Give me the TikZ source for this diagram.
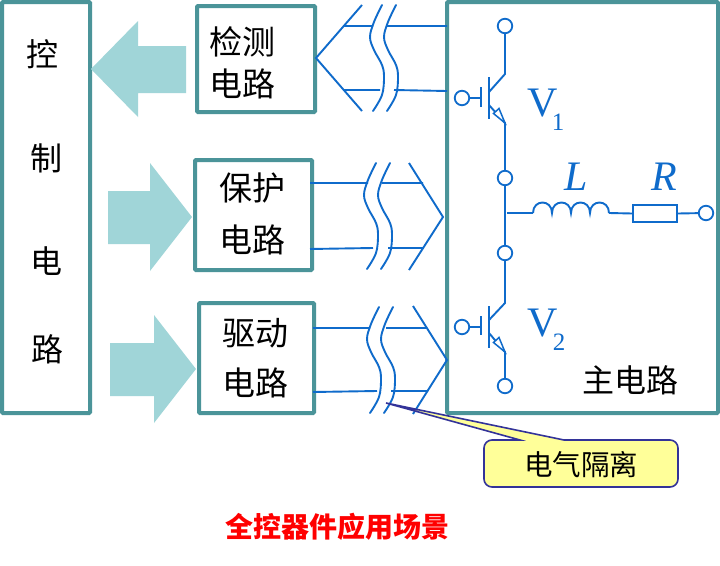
\documentclass[tikz,border=0pt]{standalone}
\usepackage{fontspec}
\setmainfont{Noto Sans CJK SC}
\newfontfamily\latinserif{Liberation Serif}
\newcommand{\sz}[1]{\fontsize{#1}{#1}\selectfont}
\definecolor{tealline}{HTML}{4B9499}
\definecolor{arrowfill}{HTML}{A0D5D8}
\definecolor{wireblue}{HTML}{0F6BCB}
\definecolor{calloutfill}{HTML}{FFFF99}
\definecolor{calloutline}{HTML}{333399}
\tikzset{
  x=1pt,y=-1pt,
  block/.style={draw=tealline,line width=4pt,fill=white,rounded corners=1pt},
  bigarrow/.style={fill=arrowfill,draw=none},
  thinwire/.style={draw=wireblue,line width=1.9pt},
  terminal/.style={circle,draw=wireblue,line width=1.8pt,fill=white,minimum size=14.5pt,inner sep=0pt},
  cjk/.style={font=\sz{#1},text=black,inner sep=0pt},
  sym/.style={text=wireblue,inner sep=0pt},
  wave/.pic={\draw[thinwire,line cap=round] plot[smooth,tension=0.6] coordinates {(0,0) (-8,17) (-12,32) (-8,45) (0,60) (2,72) (0,90) (-9,106)};},
}
\begin{document}
\begin{tikzpicture}
\useasboundingbox[fill=white] (0,0) rectangle (720,565);
% blocks
\draw[block] (2,2) rectangle (90,413);
\draw[block] (197,6) rectangle (315,112);
\draw[block] (195,160) rectangle (312,270);
\draw[block] (199,303) rectangle (314,413);
\draw[block] (447,2) rectangle (718,413);
% block arrows
\fill[bigarrow] (91,69) -- (138,21) -- (138,46) -- (186,46) -- (186,93) -- (138,93) -- (138,117) -- cycle;
\fill[bigarrow] (192,217) -- (150,163) -- (150,191) -- (108,191) -- (108,244) -- (150,244) -- (150,271) -- cycle;
\fill[bigarrow] (196,369) -- (154,315) -- (154,343) -- (110,343) -- (110,396) -- (154,396) -- (154,423) -- cycle;
% block texts
\node[cjk=32] (c1) at (42,54) {控};
\node[cjk=32] (c2) at (46,158) {制};
\node[cjk=32] (c3) at (46,261) {电};
\node[cjk=32] (c4) at (47,349) {路};
\node[cjk=33] (d1) at (242,42) {检测};
\node[cjk=33] (d2) at (242,84) {电路};
\node[cjk=33] (p1) at (252,188) {保护};
\node[cjk=33] (p2) at (252,240) {电路};
\node[cjk=33] (q1) at (255,333) {驱动};
\node[cjk=33] (q2) at (255,383) {电路};
\node[cjk=32] (m) at (630,380) {主电路};
% detection isolation
\coordinate (dtip) at (316,58);
\coordinate (dtop) at (362,5);
\coordinate (dbot) at (362,111);
\draw[thinwire] (dtop) -- (dtip) -- (dbot);
\coordinate (da1) at (343,26); \coordinate (da2) at (373,26);
\coordinate (da3) at (387,26); \coordinate (da4) at (447,26);
\coordinate (db1) at (343,90); \coordinate (db2) at (380,90);
\coordinate (db3) at (394,90); \coordinate (db4) at (447,91);
\draw[thinwire] (da1) -- (da2) (da3) -- (da4) (db1) -- (db2) (db3) -- (db4);
\pic at (382,5) {wave};
\pic at (396,5) {wave};
% protection isolation
\coordinate (ptip) at (443,217);
\coordinate (ptop) at (409,163);
\coordinate (pbot) at (409,270);
\draw[thinwire] (ptop) -- (ptip) -- (pbot);
\coordinate (pa1) at (310,183); \coordinate (pa2) at (368,183);
\coordinate (pa3) at (382,183); \coordinate (pa4) at (423,183);
\coordinate (pb1) at (310,249); \coordinate (pb2) at (373,248);
\coordinate (pb3) at (388,248); \coordinate (pb4) at (423,248);
\draw[thinwire] (pa1) -- (pa2) (pa3) -- (pa4) (pb1) -- (pb2) (pb3) -- (pb4);
\pic at (376,163) {wave};
\pic at (390,163) {wave};
% drive isolation
\coordinate (qtip) at (447,360);
\coordinate (qtop) at (413,306);
\coordinate (qbot) at (413,414);
\draw[thinwire] (qtop) -- (qtip) -- (qbot);
\coordinate (qa1) at (313,328); \coordinate (qa2) at (370,328);
\coordinate (qa3) at (386,328); \coordinate (qa4) at (426,328);
\coordinate (qb1) at (313,392); \coordinate (qb2) at (377,391);
\coordinate (qb3) at (391,391); \coordinate (qb4) at (428,391);
\draw[thinwire] (qa1) -- (qa2) (qa3) -- (qa4) (qb1) -- (qb2) (qb3) -- (qb4);
\pic at (379,307) {wave};
\pic at (393,307) {wave};
% terminals
\node[terminal] (t1) at (505,26) {};
\node[terminal] (g1) at (462,98) {};
\node[terminal] (mid1) at (505,178) {};
\node[terminal] (mid2) at (505,253) {};
\node[terminal] (g2) at (462,327) {};
\node[terminal] (b2) at (505,386) {};
\node[terminal] (out) at (706,213) {};
% V1
\coordinate (c1k) at (505,74); \coordinate (b1a) at (489,92);
\coordinate (b1t) at (489,77); \coordinate (b1b) at (489,119);
\coordinate (g1t) at (481,87); \coordinate (g1b) at (481,107); \coordinate (g1m) at (481,98);
\coordinate (e1a) at (489,105); \coordinate (e1k) at (505,123);
\draw[thinwire] (t1) -- (c1k) -- (b1a);
\draw[thinwire] (b1t) -- (b1b) (g1t) -- (g1b);
\draw[thinwire] (g1) -- (g1m);
\draw[thinwire] (e1a) -- (e1k) -- (mid1);
\draw[draw=wireblue,line width=1.5pt,fill=white] (e1k) -- (499,108.5) -- (493.5,113.5) -- cycle;
% V2
\coordinate (c2k) at (505,303); \coordinate (b2a) at (489,320);
\coordinate (b2t) at (489,306); \coordinate (b2b) at (489,348);
\coordinate (g2t) at (481,316); \coordinate (g2b) at (481,335); \coordinate (g2m) at (481,327);
\coordinate (e2a) at (489,333); \coordinate (e2k) at (505,352);
\draw[thinwire] (mid2) -- (c2k) -- (b2a);
\draw[thinwire] (b2t) -- (b2b) (g2t) -- (g2b);
\draw[thinwire] (g2) -- (g2m);
\draw[thinwire] (e2a) -- (e2k) -- (b2);
\draw[draw=wireblue,line width=1.5pt,fill=white] (e2k) -- (499,337.5) -- (493.5,342.5) -- cycle;
% midpoint and load
\draw[thinwire] (mid1) -- (mid2);
\coordinate (j) at (507,213); \coordinate (la) at (533,213); \coordinate (lb) at (609,213);
\node[draw=wireblue,line width=1.8pt,minimum width=44pt,minimum height=17pt,inner sep=0pt] (res) at (655,213.5) {};
\draw[thinwire] (j) -- (la);
\draw[thinwire] (la) .. controls (533,199) and (552,199) .. (552,213)
  .. controls (552,199) and (571,199) .. (571,213)
  .. controls (571,199) and (590,199) .. (590,213)
  .. controls (590,199) and (609,199) .. (609,213);
\draw[thinwire] (lb) -- (res.west);
\draw[thinwire] (res.east) -- (out);
% symbols
\node[sym,font=\latinserif\sz{42}] (v1) at (543,103) {V};
\node[sym,font=\latinserif\sz{25}] (v1s) at (558,122) {1};
\node[sym,font=\latinserif\sz{42}] (v2) at (543,323) {V};
\node[sym,font=\latinserif\sz{25}] (v2s) at (559,342) {2};
\node[sym,font=\latinserif\itshape\sz{42}] (L) at (576,177) {L};
\node[sym,font=\latinserif\itshape\sz{42}] (R) at (664,177) {R};
% callout
\draw[draw=calloutline,line width=1.6pt,fill=calloutfill,rounded corners=0pt]
  (386,403) -- (520,440) -- (495,440)
  [rounded corners=8pt] -- (484,440) -- (484,487) -- (678,487) -- (678,440) [rounded corners=0pt] -- (564,440) -- cycle;
\node[cjk=28.5] (iso) at (581,465) {电气隔离};
% title
\node[cjk=28,text=red,font=\sz{28}\bfseries] (title) at (337,527) {全控器件应用场景};
\end{tikzpicture}
\end{document}
